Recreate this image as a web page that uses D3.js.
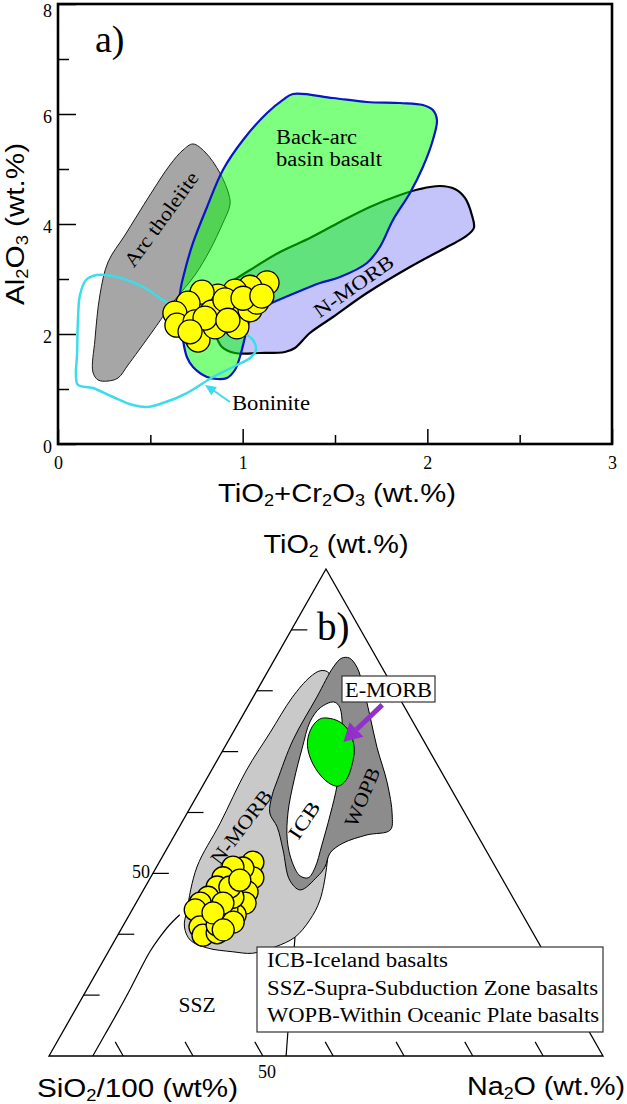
<!DOCTYPE html>
<html>
<head>
<meta charset="utf-8">
<script src="https://cdn.jsdelivr.net/npm/d3@7"></script>
<style>
  body { margin: 0; background: #fff; }
  svg { display: block; }
</style>
</head>
<body>
<div id="chart"></div>
<script>
// ---------- panel a) data : [TiO2+Cr2O3, Al2O3] ----------
const arcTholeiite = [[0.731,5.455],[0.796,5.309],[0.877,4.927],[0.926,4.527],[0.931,4.345],[0.888,3.982],[0.823,3.527],[0.742,3.073],[0.633,2.618],[0.498,1.982],[0.379,1.436],[0.325,1.2],[0.271,1.145],[0.217,1.164],[0.189,1.309],[0.2,1.891],[0.227,2.709],[0.271,3.309],[0.363,3.8],[0.498,4.527],[0.606,5.073],[0.677,5.345]];
const nMorbA = [[0.823,2.618],[0.931,2.927],[1.04,3.164],[1.202,3.491],[1.364,3.745],[1.527,4.036],[1.689,4.309],[1.852,4.527],[1.96,4.636],[2.068,4.691],[2.149,4.636],[2.204,4.473],[2.241,4.164],[2.252,3.927],[2.204,3.764],[2.106,3.582],[1.906,3.218],[1.673,2.745],[1.489,2.309],[1.364,2.018],[1.283,1.745],[1.229,1.673],[1.094,1.655],[0.958,1.655],[0.888,1.764],[0.85,2.018],[0.823,2.345]];
const backArc = [[1.272,6.364],[1.489,6.291],[1.673,6.218],[1.852,6.2],[1.976,6.164],[2.03,6.073],[2.052,5.891],[2.03,5.527],[1.976,5.036],[1.906,4.564],[1.814,4.073],[1.743,3.582],[1.673,3.291],[1.527,3.036],[1.419,2.927],[1.31,2.782],[1.132,2.527],[1.056,2.4],[1.023,2.073],[0.985,1.582],[0.958,1.345],[0.915,1.2],[0.861,1.182],[0.807,1.218],[0.731,1.4],[0.698,1.582],[0.677,1.891],[0.666,2.255],[0.661,2.745],[0.688,3.164],[0.731,3.655],[0.807,4.309],[0.893,4.982],[1.002,5.527],[1.132,6.018],[1.218,6.255]];
const boninite = [[0.211,3.073],[0.319,3.036],[0.46,2.855],[0.568,2.618],[0.715,2.345],[0.877,2.127],[1.012,2.0],[1.056,1.891],[1.072,1.709],[1.04,1.564],[0.958,1.418],[0.839,1.218],[0.698,0.927],[0.568,0.745],[0.482,0.673],[0.406,0.709],[0.298,0.855],[0.189,1.018],[0.108,1.073],[0.097,1.255],[0.103,1.618],[0.108,2.255],[0.119,2.709],[0.152,2.982]];
const boniniteArrow = [[0.931,0.764],[0.796,1.073]];
const samplesTiCr = [1.132,1.040,0.958,0.866,0.780,0.704,0.633,0.644,0.742,0.758,0.834,0.850,0.947,0.969,1.040,1.077,0.904,0.796,0.715,1.002,0.920,1.104];
const samplesAl   = [2.93,2.85,2.78,2.69,2.76,2.56,2.38,2.16,2.22,1.89,2.40,2.13,2.38,2.13,2.44,2.58,2.62,2.29,2.04,2.65,2.25,2.69];
const xMajor = [0, 1, 2, 3];
const xMinor = [0.5, 1.5, 2.5];
const yMajor = [0, 2, 4, 6, 8];
const yMinor = [1, 3, 5, 7];

// ---------- panel b) data : [TiO2 %, Na2O %] (SiO2/100 is the rest) ----------
const nMorbB = [[78.9,10.8],[77.2,12.5],[69.0,16.4],[56.7,21.9],[44.4,28.2],[39.6,30.4],[32.0,32.9],[27.9,33.1],[24.4,32.2],[22.4,29.6],[21.1,26.2],[21.4,22.5],[22.2,17.4],[23.8,13.6],[26.5,11.2],[30.0,9.9],[38.8,7.3],[47.8,7.0],[58.7,6.3],[66.3,6.7],[73.7,7.1],[77.8,8.2],[79.1,9.4]];
const wopb = [[81.7,12.0],[81.7,13.4],[79.7,15.8],[75.8,18.8],[70.0,22.9],[63.4,27.5],[56.1,33.0],[49.5,37.2],[46.4,38.4],[45.4,34.7],[43.7,31.2],[41.7,29.9],[38.8,30.4],[36.8,30.0],[34.1,28.3],[36.1,25.4],[42.3,21.1],[47.0,17.7],[49.9,14.9],[53.6,13.5],[56.7,12.9],[64.9,11.6],[73.7,11.5],[79.9,11.4]];
const icb = [[72.7,15.0],[71.5,13.2],[68.6,12.8],[63.2,14.1],[56.7,15.9],[50.1,18.1],[44.4,20.8],[39.8,24.0],[37.0,26.8],[36.6,28.5],[38.6,28.7],[43.3,27.6],[49.5,26.0],[55.6,24.2],[62.8,21.3],[69.0,18.4],[71.9,16.4]];
const eMorb = [[69.4,15.5],[68.6,18.2],[66.5,21.0],[63.2,23.5],[59.8,24.8],[56.7,25.3],[55.4,24.5],[56.1,22.4],[58.3,19.4],[61.4,16.4],[64.5,14.4],[67.6,13.7],[69.2,14.3]];
const sszLeft = [[0,7.9],[4.3,7.9],[8.8,7.9],[13.6,7.8],[17.7,7.6],[21.4,7.5],[24.4,7.8],[26.9,8.3],[29.0,9.1]];
const sszRight = [[24.4,32.2],[11.5,37.8],[0,42.8]];
const eMorbArrow = [[72.1,24.1],[64.5,20.9]];
const samplesTiO2 = [39.8,36.6,33.7,31.4,29.0,38.6,38.8,36.6,34.7,32.6,31.4,30.0,26.5,24.8,25.3,26.9,30.0,32.6,34.7,36.1,31.4,29.4,27.5,25.9];
const samplesNa2O = [16.9,18.5,18.9,19.7,19.1,15.7,13.8,13.1,13.0,12.4,11.6,11.4,14.0,15.4,17.7,16.9,17.1,16.9,15.3,16.4,15.7,14.9,19.5,18.5];
const leftTicks = [12.5, 25, 37.5, 50, 62.5, 75, 87.5];
const bottomTicks = [13.4, 26.0, 38.6, 51.3, 64.1, 76.5, 89.2];
const legendLines = ["ICB-Iceland basalts", "SSZ-Supra-Subduction Zone basalts", "WOPB-Within Oceanic Plate basalts"];

const W = 627, H = 1104;
const serif = "'Liberation Serif', 'Times New Roman', serif";
const sans = "'Liberation Sans', Arial, sans-serif";

const svg = d3.select("#chart").append("svg")
    .attr("width", W)
    .attr("height", H);

function label(g, x, y, str, opt) {
    const t = g.append("text")
        .attr("font-family", opt.family || serif)
        .attr("font-size", opt.size)
        .attr("text-anchor", opt.anchor || "start")
        .attr("fill", "#000");
    if (opt.rotate !== undefined) {
        t.attr("transform", `translate(${x},${y}) rotate(${opt.rotate})`).attr("dy", opt.dy === undefined ? "0.35em" : opt.dy);
    } else {
        t.attr("x", x).attr("y", y);
    }
    if (opt.len) t.attr("textLength", opt.len).attr("lengthAdjust", "spacingAndGlyphs");
    // parts: [text, isSub]
    const parts = Array.isArray(str) ? str : [[str, false]];
    parts.forEach(([s, sub]) => {
        const ts = t.append("tspan").text(s);
        if (sub) ts.attr("font-size", opt.size * 0.62).attr("baseline-shift", "-22%");
    });
    return t;
}

// =================== panel a ===================
const x = d3.scaleLinear().domain([0, 3]).range([58, 612]);
const y = d3.scaleLinear().domain([0, 8]).range([444, 4]);
const ga = svg.append("g");

const smooth = d3.line().x(d => x(d[0])).y(d => y(d[1])).curve(d3.curveCatmullRomClosed.alpha(0.5));

ga.append("path").attr("d", smooth(arcTholeiite))
    .attr("fill", "#a6a6a6").attr("stroke", "#1a1a1a").attr("stroke-width", 1);
ga.append("path").attr("d", smooth(nMorbA))
    .attr("fill", "#c4c4fa").attr("stroke", "#000").attr("stroke-width", 2.2);
ga.append("path").attr("d", smooth(backArc))
    .attr("fill", "#00ff00").attr("fill-opacity", 0.5)
    .attr("stroke", "#0a14c8").attr("stroke-width", 2.2);
ga.append("path").attr("d", smooth(boninite))
    .attr("fill", "none").attr("stroke", "#3ddcea").attr("stroke-width", 2.5);

// boninite arrow
const [ba0, ba1] = boniniteArrow;
ga.append("line")
    .attr("x1", x(ba0[0])).attr("y1", y(ba0[1]))
    .attr("x2", x(ba1[0]) + 5).attr("y2", y(ba1[1]) + 3)
    .attr("stroke", "#3ddcea").attr("stroke-width", 2);
{
    const tx = x(ba1[0]), ty = y(ba1[1]);
    const ang = Math.atan2(y(ba0[1]) - ty, x(ba0[0]) - tx);
    const L = 11, Wd = 5;
    const bx = tx + L * Math.cos(ang), by = ty + L * Math.sin(ang);
    ga.append("path")
        .attr("d", `M${tx},${ty}L${bx - Wd * Math.sin(ang)},${by + Wd * Math.cos(ang)}L${bx + Wd * Math.sin(ang)},${by - Wd * Math.cos(ang)}Z`)
        .attr("fill", "#3ddcea");
}

// samples
ga.selectAll("circle.s").data(d3.range(samplesTiCr.length)).join("circle")
    .attr("class", "s")
    .attr("cx", i => x(samplesTiCr[i]))
    .attr("cy", i => y(samplesAl[i]))
    .attr("r", 12)
    .attr("fill", "#ffff00").attr("stroke", "#000").attr("stroke-width", 1.3);

// frame and axes
ga.append("rect")
    .attr("x", x(0)).attr("y", y(8))
    .attr("width", x(3) - x(0)).attr("height", y(0) - y(8))
    .attr("fill", "none").attr("stroke", "#000").attr("stroke-width", 2.6);

function styleAxis(g) {
    g.select(".domain").remove();
    g.selectAll(".tick line").attr("stroke", "#000").attr("stroke-width", 1.5);
    g.selectAll(".tick text").attr("font-family", serif).attr("font-size", 18).attr("fill", "#000");
}
ga.append("g").attr("transform", `translate(0,${y(0)})`)
    .call(d3.axisBottom(x).tickValues(xMajor).tickSizeInner(-15).tickSizeOuter(0).tickPadding(12).tickFormat(d3.format("d")))
    .call(styleAxis);
ga.append("g").attr("transform", `translate(0,${y(0)})`)
    .call(d3.axisBottom(x).tickValues(xMinor).tickSizeInner(-9).tickSizeOuter(0).tickFormat(""))
    .call(styleAxis);
ga.append("g").attr("transform", `translate(${x(0)},0)`)
    .call(d3.axisLeft(y).tickValues(yMajor).tickSizeInner(-18).tickSizeOuter(0).tickPadding(6).tickFormat(d3.format("d")))
    .call(styleAxis)
    .call(g => g.selectAll(".tick text").attr("dy", d => d === 8 ? "0.72em" : "0.45em"));
ga.append("g").attr("transform", `translate(${x(0)},0)`)
    .call(d3.axisLeft(y).tickValues(yMinor).tickSizeInner(-11).tickSizeOuter(0).tickFormat(""))
    .call(styleAxis);

// panel a texts
label(ga, 95, 52, "a)", { size: 38 });
label(ga, x(1.181), y(5.45), "Back-arc", { size: 20, len: 81 });
label(ga, x(1.181), y(5.05), "basin basalt", { size: 20, len: 106 });
label(ga, x(0.558), y(4.09), "Arc tholeiite", { size: 20, rotate: -54, len: 112, anchor: "middle" });
label(ga, x(1.6), y(2.87), "N-MORB", { size: 20, rotate: -35, len: 93, anchor: "middle" });
label(ga, x(0.942), y(0.62), "Boninite", { size: 21, len: 78 });
label(ga, 337, 502, [["TiO", false], ["2", true], ["+Cr", false], ["2", true], ["O", false], ["3", true], [" (wt.%)", false]],
    { size: 26, family: sans, anchor: "middle", len: 238 });
label(ga, 24, y(4), [["Al", false], ["2", true], ["O", false], ["3", true], [" (wt.%)", false]],
    { size: 26, family: sans, anchor: "middle", rotate: -90, dy: 0, len: 162 });

// =================== panel b ===================
const tx = d3.scaleLinear().domain([0, 100]).range([49, 603]);   // horizontal position along base
const ty = d3.scaleLinear().domain([0, 100]).range([1056, 569]); // TiO2
const proj = d => [tx(d[1] + d[0] / 2), ty(d[0])];
const gb = svg.append("g");

const tSmooth = d3.line().x(d => proj(d)[0]).y(d => proj(d)[1]).curve(d3.curveCatmullRomClosed.alpha(0.5));
const tOpen = d3.line().x(d => proj(d)[0]).y(d => proj(d)[1]).curve(d3.curveCatmullRom.alpha(0.5));

gb.append("path").attr("d", tOpen(sszLeft)).attr("fill", "none").attr("stroke", "#000").attr("stroke-width", 1.2);
gb.append("path").attr("d", tOpen(sszRight)).attr("fill", "none").attr("stroke", "#000").attr("stroke-width", 1.2);
gb.append("path").attr("d", tSmooth(nMorbB)).attr("fill", "#c9c9c9").attr("stroke", "#000").attr("stroke-width", 1);
gb.append("path").attr("d", tSmooth(wopb)).attr("fill", "#8c8c8c").attr("stroke", "#000").attr("stroke-width", 1);
gb.append("path").attr("d", tSmooth(icb)).attr("fill", "#fff").attr("stroke", "#000").attr("stroke-width", 1);
gb.append("path").attr("d", tSmooth(eMorb)).attr("fill", "#00f000").attr("stroke", "#000").attr("stroke-width", 1);

// triangle
const corners = [[100, 0], [0, 0], [0, 100]].map(proj);
gb.append("path").attr("d", d3.line()(corners) + "Z")
    .attr("fill", "none").attr("stroke", "#000").attr("stroke-width", 1.3);

// ticks
gb.selectAll("line.lt").data(leftTicks).join("line").attr("class", "lt")
    .attr("x1", d => proj([d, 0])[0]).attr("y1", d => proj([d, 0])[1])
    .attr("x2", d => proj([d, 0])[0] + 16).attr("y2", d => proj([d, 0])[1])
    .attr("stroke", "#000").attr("stroke-width", 1.2);
gb.selectAll("line.bt").data(bottomTicks).join("line").attr("class", "bt")
    .attr("x1", d => proj([0, d])[0]).attr("y1", d => proj([0, d])[1])
    .attr("x2", d => proj([2.9, d - 2.9])[0]).attr("y2", d => proj([2.9, d - 2.9])[1])
    .attr("stroke", "#000").attr("stroke-width", 1.2);

// samples
gb.selectAll("circle.s").data(d3.range(samplesTiO2.length)).join("circle")
    .attr("class", "s")
    .attr("cx", i => proj([samplesTiO2[i], samplesNa2O[i]])[0])
    .attr("cy", i => proj([samplesTiO2[i], samplesNa2O[i]])[1])
    .attr("r", 11)
    .attr("fill", "#ffff00").attr("stroke", "#000").attr("stroke-width", 1.3);

// E-MORB arrow
{
    const p0 = proj(eMorbArrow[0]), p1 = proj(eMorbArrow[1]);
    const ang = Math.atan2(p0[1] - p1[1], p0[0] - p1[0]);
    const L = 18, Wd = 10;
    const bx = p1[0] + L * Math.cos(ang), by = p1[1] + L * Math.sin(ang);
    gb.append("line").attr("x1", p0[0]).attr("y1", p0[1]).attr("x2", bx).attr("y2", by)
        .attr("stroke", "#9330c8").attr("stroke-width", 5);
    gb.append("path")
        .attr("d", `M${p1[0]},${p1[1]}L${bx - Wd * Math.sin(ang)},${by + Wd * Math.cos(ang)}L${bx + Wd * Math.sin(ang)},${by - Wd * Math.cos(ang)}Z`)
        .attr("fill", "#9330c8");
}

// E-MORB box
gb.append("rect").attr("x", 342).attr("y", 676).attr("width", 93).attr("height", 26)
    .attr("fill", "#fff").attr("stroke", "#333").attr("stroke-width", 1.2);
label(gb, 388.5, 697, "E-MORB", { size: 20, anchor: "middle", len: 87 });

// legend box
gb.append("rect").attr("x", 257).attr("y", 947).attr("width", 346).attr("height", 85)
    .attr("fill", "#fff").attr("stroke", "#333").attr("stroke-width", 1.2);
const legendLens = [181, 331, 332];
legendLines.forEach((s, i) => label(gb, 267, 967 + i * 27.5, s, { size: 20, len: legendLens[i] }));

// panel b texts
label(gb, 317, 640, "b)", { size: 39 });
label(gb, 241, 827, "N-MORB", { size: 20, rotate: -53, len: 88, anchor: "middle" });
label(gb, 304, 820, "ICB", { size: 20, rotate: -56, len: 41, anchor: "middle" });
label(gb, 362, 797, "WOPB", { size: 20, rotate: -67, len: 62, anchor: "middle" });
label(gb, 197, 1012, "SSZ", { size: 20, anchor: "middle", len: 37 });
label(gb, 150, 878, "50", { size: 18, anchor: "end" });
label(gb, 267, 1078, "50", { size: 18, anchor: "middle" });
label(gb, 336, 553, [["TiO", false], ["2", true], [" (wt.%)", false]], { size: 26, family: sans, anchor: "middle", len: 145 });
label(gb, 37, 1097, [["SiO", false], ["2", true], ["/100 (wt%)", false]], { size: 26, family: sans, len: 201 });
label(gb, 467, 1095, [["Na", false], ["2", true], ["O (wt.%)", false]], { size: 26, family: sans, len: 158 });
</script>
</body>
</html>
